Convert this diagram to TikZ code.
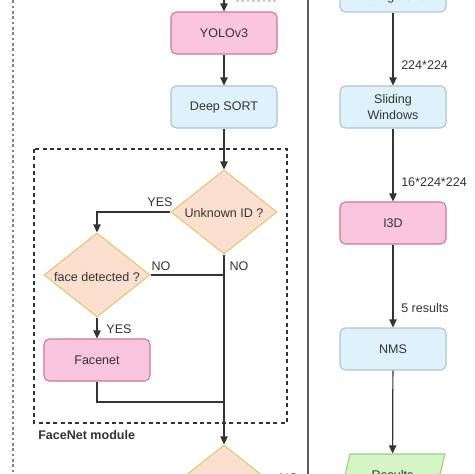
\documentclass[tikz,border=0pt]{standalone}
\usepackage{fontspec}
\setmainfont{Liberation Sans}
\usetikzlibrary{shapes.geometric,arrows.meta}
\definecolor{pinkfill}{HTML}{FAC5DE}
\definecolor{pinkline}{HTML}{C9789A}
\definecolor{bluefill}{HTML}{DFF1FB}
\definecolor{blueline}{HTML}{A8C4D6}
\definecolor{peachfill}{HTML}{FCE0CF}
\definecolor{peachline}{HTML}{E2C76B}
\definecolor{greenfill}{HTML}{D5F5C5}
\definecolor{greenline}{HTML}{9AD080}
\definecolor{ink}{HTML}{333333}
\begin{document}
\begin{tikzpicture}[x=0.75pt,y=-0.75pt,
  font=\fontsize{9.4}{11.3}\selectfont, text=ink,
  pinkbox/.style={draw=pinkline,fill=pinkfill,rounded corners=4pt,minimum width=79.5pt,minimum height=31.5pt,inner sep=0pt,line width=0.8pt},
  bluebox/.style={pinkbox,draw=blueline,fill=bluefill,align=center},
  decision/.style={diamond,draw=peachline,fill=peachfill,aspect=1.26,minimum width=79.5pt,minimum height=63pt,inner sep=0pt,line width=0.8pt},
  resultbox/.style={trapezium,trapezium left angle=62,trapezium right angle=118,trapezium stretches=true,draw=greenline,fill=greenfill,minimum width=78.75pt,minimum height=31.5pt,inner sep=0pt,line width=0.8pt},
  lbl/.style={inner sep=0pt},
  flow/.style={draw=ink,line width=0.9pt,-{Triangle[length=6pt,width=5.5pt]}},
  wire/.style={draw=ink,line width=0.9pt}]
\useasboundingbox (0,0) rectangle (474,474);
\fill[white] (0,0) rectangle (474,474);
\clip (0,0) rectangle (474,474);

% frames
\path[draw,gray,line width=0.9pt,dash pattern=on 2pt off 2pt] (13,-5) -- (13,480);
\path[draw,gray!40,line width=0.9pt,dash pattern=on 2pt off 2pt] (236,1) -- (278,1);
\path[draw,ink!80,line width=0.9pt] (308,-5) -- (308,480);
\path[draw,ink,line width=0.8pt,dash pattern=on 3pt off 2.5pt] (34,149) rectangle (287,423);
\node[lbl,font=\fontsize{9.4}{11.3}\selectfont\bfseries,anchor=west] (modname) at (38,435) {FaceNet module};

% left column
\coordinate (in) at (224,-10);
\node[pinkbox] (yolo) at (224,33) {YOLOv3};
\node[bluebox] (sort) at (224,107) {Deep SORT};
\node[decision] (unk) at (224,212) {};
\node[lbl] (unktxt) at (224,213) {Unknown ID ?};
\node[decision] (face) at (97,275) {};
\node[lbl] (facetxt) at (97,277) {face detected ?};
\node[pinkbox] (fnet) at (97,360) {Facenet};
\node[decision] (next) at (224,487) {};
\coordinate (j1) at (224,275);
\coordinate (j2) at (224,402);

\draw[flow] (in) -- (yolo);
\draw[flow] (yolo) -- (sort);
\draw[flow] (sort) -- (unk);
\draw[flow] (unk.west) -| (face.north);
\draw[wire] (face.east) -- (j1);
\draw[flow] (face.south) -- (fnet.north);
\draw[wire] (fnet.south) |- (j2);
\draw[flow] (unk.south) -- (next.north);

\node[lbl] (yes1) at (160,202) {YES};
\node[lbl] (no1) at (161,266) {NO};
\node[lbl] (no2) at (239,266) {NO};
\node[lbl] (yes2) at (119,329) {YES};
\node[lbl] (no3) at (289,478) {NO};

% right column
\node[bluebox] (bg) at (393,-9) {};
\node[lbl,anchor=base] (bgtxt) at (393,1) {Background};
\node[bluebox] (sw) at (393,107) {Sliding\\Windows};
\node[pinkbox] (i3d) at (393,223) {I3D};
\node[bluebox] (nms) at (393,349) {NMS};
\node[resultbox] (res) at (392.5,475) {Results};

\draw[flow] (bg) -- (sw);
\draw[flow] (sw) -- (i3d);
\draw[flow] (i3d) -- (nms);
\draw[flow] (nms) -- (res);

\node[lbl,anchor=west] (size1) at (401,65) {224*224};
\node[lbl,anchor=west] (size2) at (401,182) {16*224*224};
\node[lbl,anchor=west] (size3) at (401,308) {5 results};
\end{tikzpicture}
\end{document}
